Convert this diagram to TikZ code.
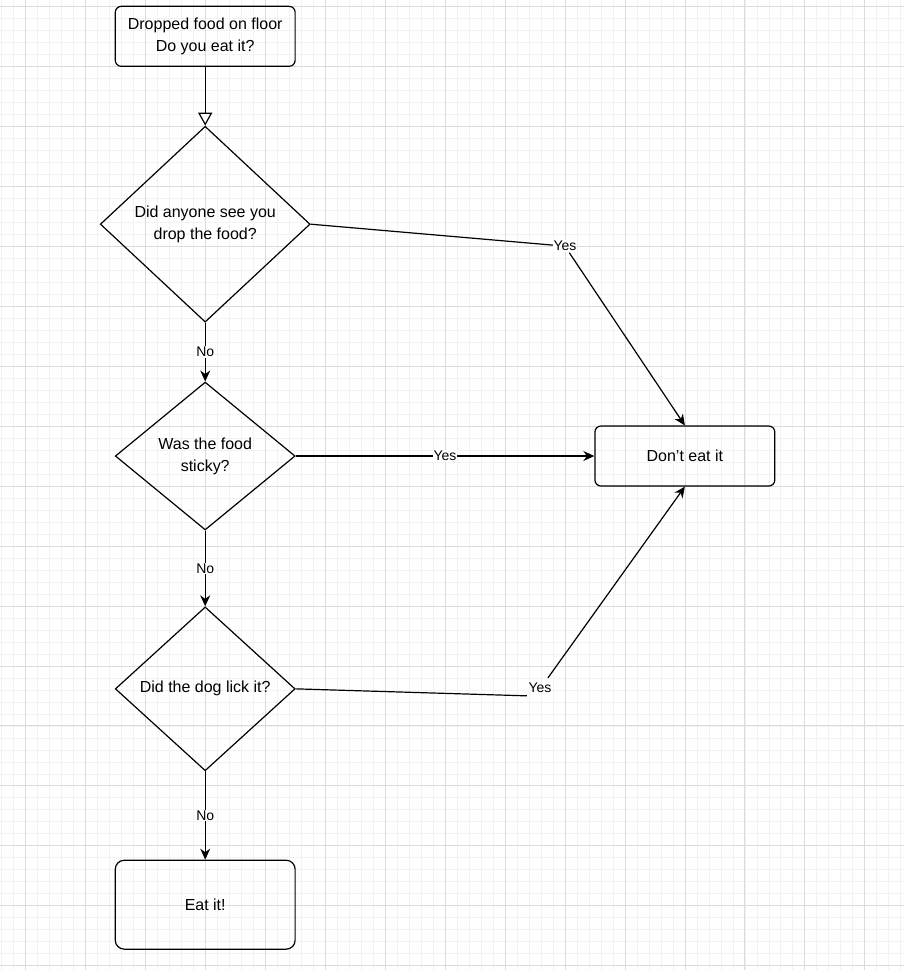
\documentclass[tikz,border=0pt]{standalone}
\usepackage{fontspec}
\setmainfont{Liberation Sans}
\usetikzlibrary{shapes.geometric,arrows.meta}
\begin{document}
\begin{tikzpicture}[x=1pt,y=-1pt,
  box/.style={draw,rounded corners=6pt,line width=1.2pt,align=center,font=\fontsize{16}{22}\selectfont,inner sep=0pt},
  dia/.style={draw,diamond,line width=1.2pt,align=center,font=\fontsize{16}{22}\selectfont,inner sep=0pt},
  edge/.style={line width=1.2pt,-{Stealth[length=11pt,width=10pt]}},
  lbl/.style={fill=white,inner sep=1pt,font=\fontsize{14}{16}\selectfont}]
\fill[white] (0,0) rectangle (904,970);
\foreach \x in {1,13,...,904} \draw[black!5,line width=0.6pt] (\x,0) -- (\x,970);
\foreach \y in {6,18,...,970} \draw[black!5,line width=0.6pt] (0,\y) -- (904,\y);
\foreach \x in {25,85,...,904} \draw[black!14,line width=0.7pt] (\x,0) -- (\x,970);
\foreach \y in {6,66,...,970} \draw[black!14,line width=0.7pt] (0,\y) -- (904,\y);
\useasboundingbox (0,0) rectangle (904,970);

\node[box,minimum width=180pt,minimum height=60pt] (start) at (205,36) {Dropped food on floor\\Do you eat it?};
\node[dia,minimum width=210pt,minimum height=196pt,aspect=1.07] (d1) at (205,224) {Did anyone see you\\drop the food?};
\node[dia,minimum width=180pt,minimum height=148pt,aspect=1.2] (d2) at (205,456) {Was the food\\sticky?};
\node[dia,minimum width=180pt,minimum height=164pt,aspect=1.1] (d3) at (205,689) {Did the dog lick it?};
\node[box,minimum width=180pt,minimum height=60pt] (dont) at (685,456) {Don't eat it};
\node[box,minimum width=180pt,minimum height=89pt,rounded corners=9pt] (eat) at (205,905) {Eat it!};

\draw[line width=1.2pt,-{Triangle[open,length=13pt,width=14pt,fill=white]}] (start) -- (d1);
\draw[line width=1.2pt] (d1.east) -- (565,246) node[lbl] (y1) {Yes};
\draw[edge] (y1) -- (dont.north);
\draw[edge] (d2.east) -- node[lbl] (y2) {Yes} (dont.west);
\coordinate (c3) at (527,696);
\coordinate (c4) at (548,678);
\draw[line width=1.2pt] (d3.east) -- (c3);
\node[lbl,fill=none] (y3) at (540,688) {Yes};
\draw[edge] (c4) -- (dont.south);
\draw[edge] (d1.south) -- node[lbl] (n1) {No} (d2.north);
\draw[edge] (d2.south) -- node[lbl] (n2) {No} (d3.north);
\draw[edge] (d3.south) -- node[lbl] (n3) {No} (eat.north);
\end{tikzpicture}
\end{document}
